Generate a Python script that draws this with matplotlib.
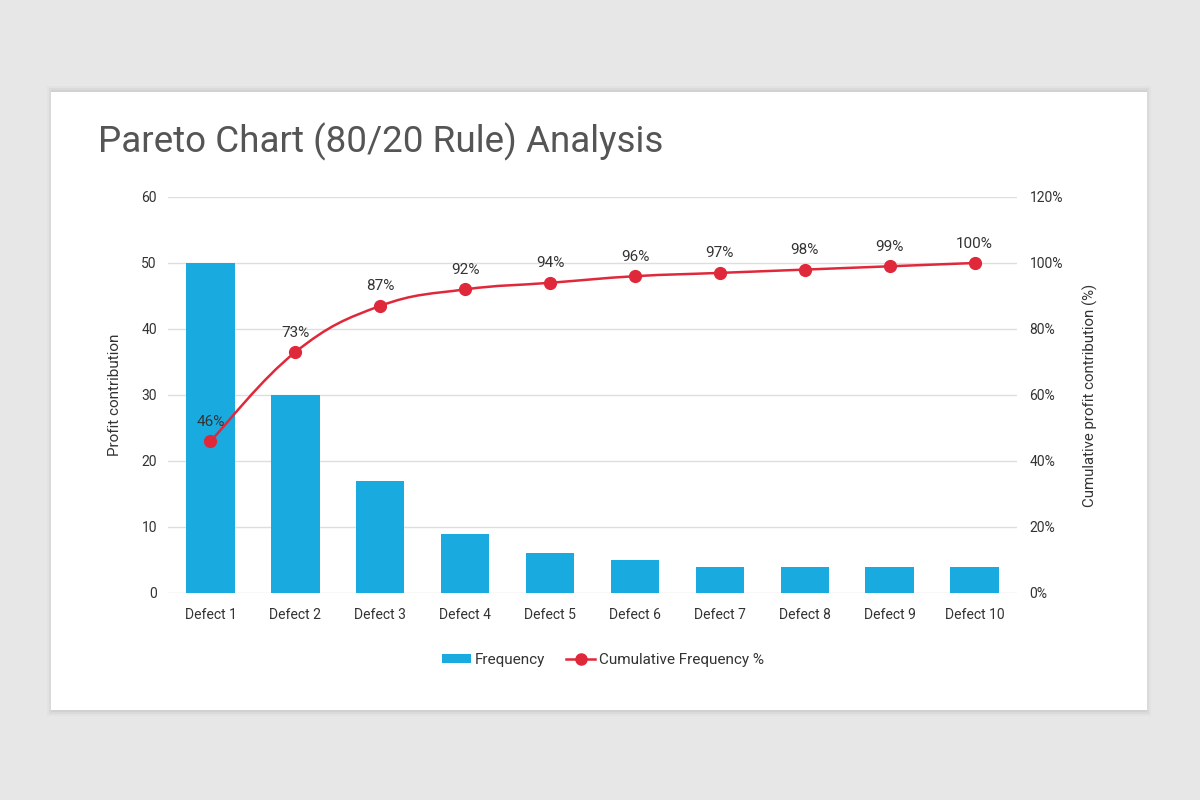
import matplotlib.pyplot as plt
import matplotlib.patches as mpatches
from matplotlib.path import Path
from matplotlib.lines import Line2D
import numpy as np

plt.rcParams['font.family'] = ['Roboto', 'DejaVu Sans']

categories = ['Defect 1', 'Defect 2', 'Defect 3', 'Defect 4', 'Defect 5',
              'Defect 6', 'Defect 7', 'Defect 8', 'Defect 9', 'Defect 10']
frequency = [50, 30, 17, 9, 6, 5, 4, 4, 4, 4]
cumulative_pct = [46, 73, 87, 92, 94, 96, 97, 98, 99, 100]

bar_color = '#19aadf'
line_color = '#e0283b'
text_color = '#333333'
grid_color = '#dedede'


def smooth_path(xs, ys, tension=0.4):
    # bezier path through the points (like a chart lib "tension" option)
    xs = np.asarray(xs, float)
    ys = np.asarray(ys, float)
    n = len(xs)
    verts = [(xs[0], ys[0])]
    codes = [Path.MOVETO]
    for i in range(n - 1):
        x0, y0 = xs[max(i - 1, 0)], ys[max(i - 1, 0)]
        x1, y1 = xs[i], ys[i]
        x2, y2 = xs[i + 1], ys[i + 1]
        x3, y3 = xs[min(i + 2, n - 1)], ys[min(i + 2, n - 1)]
        c1 = (x1 + (x2 - x0) * tension / 2, y1 + (y2 - y0) * tension / 2)
        c2 = (x2 - (x3 - x1) * tension / 2, y2 - (y3 - y1) * tension / 2)
        verts += [c1, c2, (x2, y2)]
        codes += [Path.CURVE4] * 3
    return Path(verts, codes)


fig = plt.figure(figsize=(12, 8), dpi=100)
fig.patch.set_facecolor('#e8e7e8')

# white card with soft shadow, kept behind the axes
for k, a in enumerate([0.04, 0.03, 0.02]):
    d = (k + 1) * 2
    fig.patches.append(mpatches.Rectangle(
        ((51 - d + 2) / 1200, 1 - (710 + d) / 800), (1096 + 2 * d - 4) / 1200, (618 + 2 * d) / 800,
        transform=fig.transFigure, facecolor='black', alpha=a, edgecolor='none', zorder=-3))
fig.patches.append(mpatches.Rectangle((51 / 1200, 1 - 710 / 800), 1096 / 1200, 618 / 800,
                                      transform=fig.transFigure, facecolor='white',
                                      edgecolor='none', zorder=-2))

fig.text(98 / 1200, 1 - 142 / 800, 'Pareto Chart (80/20 Rule) Analysis', fontsize=26.5,
         color='#555555', va='center', ha='left')

ax = fig.add_axes([168 / 1200, 1 - 593 / 800, 849 / 1200, 396 / 800])
ax.set_facecolor('none')
x = np.arange(len(categories))
ax.bar(x, frequency, width=0.57, color=bar_color, zorder=2)
ax.set_xlim(-0.5, len(categories) - 0.5)
ax.set_ylim(0, 60)
ax.set_yticks(range(0, 61, 10))
ax.set_xticks(x)
ax.set_xticklabels(categories)
ax.grid(axis='y', color=grid_color, linewidth=1, zorder=0)
ax.set_axisbelow(True)
ax.tick_params(length=0, labelsize=10, colors=text_color, pad=11)
ax.tick_params(axis='y', pad=8)
for s in ax.spines.values():
    s.set_visible(False)
ax.set_ylabel('Profit contribution', fontsize=11, color=text_color, labelpad=14)

ax2 = ax.twinx()
ax2.set_ylim(0, 120)
ax2.set_yticks(range(0, 121, 20))
ax2.set_yticklabels([f'{v}%' for v in range(0, 121, 20)])
ax2.tick_params(length=0, labelsize=10, colors=text_color, pad=9)
for s in ax2.spines.values():
    s.set_visible(False)
ax2.set_ylabel('Cumulative profit contribution (%)', fontsize=10.8, color=text_color, labelpad=14)

ax2.add_patch(mpatches.PathPatch(smooth_path(x, cumulative_pct), facecolor='none',
                                 edgecolor=line_color, linewidth=1.8, zorder=3))
ax2.plot(x, cumulative_pct, 'o', color=line_color, markersize=8.5, zorder=4)
for xi, v in zip(x, cumulative_pct):
    ax2.annotate(f'{v}%', (xi, v), xytext=(0, 9), textcoords='offset points',
                 ha='center', va='bottom', fontsize=11, color=text_color)

handles = [mpatches.Rectangle((0, 0), 1, 1, facecolor=bar_color, edgecolor='none'),
           Line2D([], [], color=line_color, marker='o', markersize=8, linewidth=1.8)]
fig.legend(handles, ['Frequency', 'Cumulative Frequency %'], loc='center',
           bbox_to_anchor=(603 / 1200, 1 - 660 / 800), ncol=2, frameon=False, fontsize=11,
           handlelength=1.9, handleheight=0.5, handletextpad=0.25, columnspacing=1.4)
for t in fig.legends[0].get_texts():
    t.set_color(text_color)

fig.savefig('out.png', dpi=100, facecolor=fig.get_facecolor())
